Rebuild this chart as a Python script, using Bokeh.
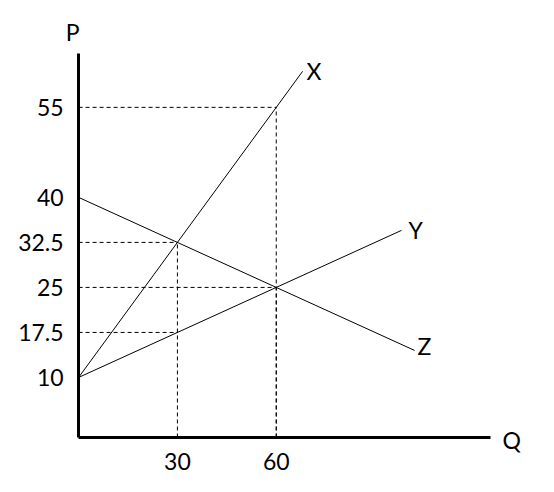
from bokeh.plotting import figure
from bokeh.models import Range1d, FixedTicker, Label
from bokeh.embed import file_html
from bokeh.resources import INLINE

# ---- data ----
q_ticks = [30, 60]
p_ticks = [10, 17.5, 25, 32.5, 40, 55]

x_q = [0, 68]
x_p = [10, 61]
y_q = [0, 98]
y_p = [10, 34.5]
z_q = [0, 102]
z_p = [40, 14.5]

curve_names = ["X", "Y", "Z"]

# guide points (dashed projections to both axes)
guide_q = [30, 60, 60]
guide_p = [32.5, 25, 55]
# extra horizontal guide: Y at Q=30
extra_q = [30]
extra_p = [17.5]

q_max = 125
p_max = 64

FONT = "Lato"
FS = "23px"

p = figure(width=538, height=476, output_backend="svg", toolbar_location=None,
           x_range=Range1d(-23.7, 139.6), y_range=Range1d(-6.5, 72.8),
           min_border=0)
p.outline_line_color = None
p.xgrid.visible = False
p.ygrid.visible = False

for ax, ticks, bnds in ((p.xaxis, q_ticks, (0, q_max)), (p.yaxis, p_ticks, (0, p_max))):
    ax.ticker = FixedTicker(ticks=ticks)
    ax.fixed_location = 0
    ax.bounds = bnds
    ax.major_tick_line_color = None
    ax.minor_tick_line_color = None
    ax.axis_line_width = 3
    ax.axis_line_color = "black"
    ax.major_label_text_font = FONT
    ax.major_label_text_font_size = FS
    ax.major_label_text_color = "black"
p.xaxis.major_label_standoff = 10
p.yaxis.major_label_standoff = 9
p.yaxis.major_label_overrides = {t: (str(t) if t != int(t) else str(int(t))) for t in p_ticks}

# dashed guides
for q, pv in zip(guide_q, guide_p):
    p.line([0, q], [pv, pv], line_color="black", line_width=1, line_dash="4 3")
    p.line([q, q], [0, pv], line_color="black", line_width=1, line_dash="4 3")
for q, pv in zip(extra_q, extra_p):
    p.line([0, q], [pv, pv], line_color="black", line_width=1, line_dash="4 3")

# curves
for qs, ps, name, dx, dy in ((x_q, x_p, "X", 4, 0), (y_q, y_p, "Y", 7, 0), (z_q, z_p, "Z", 3, 4)):
    p.line(qs, ps, line_color="black", line_width=1)
    p.add_layout(Label(x=qs[-1], y=ps[-1], text=name, x_offset=dx, y_offset=dy,
                       text_font=FONT, text_font_size=FS, text_color="black",
                       text_baseline="middle", text_align="left"))

# axis names
p.add_layout(Label(x=0, y=p_max, text="P", x_offset=-6, y_offset=21,
                   text_font=FONT, text_font_size=FS, text_color="black",
                   text_baseline="middle", text_align="center"))
p.add_layout(Label(x=q_max, y=0, text="Q", x_offset=12, y_offset=-3,
                   text_font=FONT, text_font_size=FS, text_color="black",
                   text_baseline="middle", text_align="left"))

open("out.html", "w").write(file_html(p, INLINE))
